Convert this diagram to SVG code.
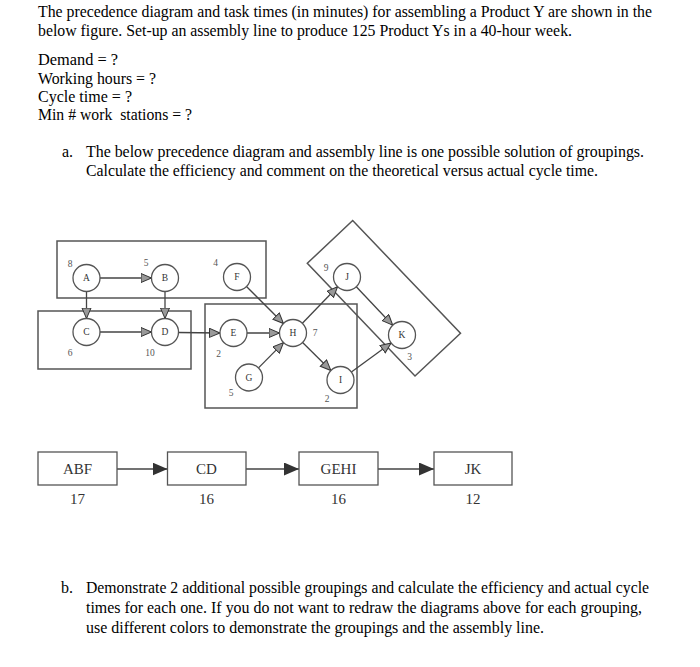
<svg xmlns="http://www.w3.org/2000/svg" width="700" height="667" viewBox="0 0 700 667">
<defs>
<style>
.t{font-family:"Liberation Serif","Times New Roman",serif;font-size:16px;fill:#000}
.grp{fill:none;stroke:#555;stroke-width:1.5}
.nd circle{fill:#fff;stroke:#555;stroke-width:1.3}
.nl{font-family:"Liberation Serif",serif;font-size:9.5px;fill:#333;text-anchor:middle}
.num{font-family:"Liberation Serif",serif;font-size:9.5px;fill:#555;text-anchor:middle}
.e{stroke:#444;stroke-width:1.3;fill:none;marker-end:url(#ah)}
.st rect{fill:#fff;stroke:#555;stroke-width:1.3}
.sl{font-family:"Liberation Serif",serif;font-size:15px;fill:#333;text-anchor:middle}
.le{stroke:#444;stroke-width:1.5;fill:none;marker-end:url(#bh)}
</style>
<marker id="ah" markerUnits="userSpaceOnUse" markerWidth="13" markerHeight="11" refX="11" refY="5" orient="auto">
<path d="M0.5,0.5 L11,5 L0.5,9.5 Z" fill="#999" stroke="#333" stroke-width="1"/>
</marker>
<marker id="bh" markerUnits="userSpaceOnUse" markerWidth="16" markerHeight="14" refX="15" refY="6.5" orient="auto">
<path d="M0,0 L15,6.5 L0,13 Z" fill="#333"/>
</marker>
</defs>
<rect width="700" height="667" fill="#fff"/>

<g id="text">
<text class="t" x="38" y="17" textLength="614" lengthAdjust="spacingAndGlyphs">The precedence diagram and task times (in minutes) for assembling a Product Y are shown in the</text>
<text class="t" x="38" y="36" textLength="534" lengthAdjust="spacingAndGlyphs">below figure. Set-up an assembly line to produce 125 Product Ys in a 40-hour week.</text>
<text class="t" x="38" y="65" textLength="80" lengthAdjust="spacingAndGlyphs">Demand = ?</text>
<text class="t" x="38" y="84" textLength="118" lengthAdjust="spacingAndGlyphs">Working hours = ?</text>
<text class="t" x="38" y="102" textLength="94" lengthAdjust="spacingAndGlyphs">Cycle time = ?</text>
<text class="t" x="38" y="120" textLength="154" lengthAdjust="spacingAndGlyphs" xml:space="preserve">Min # work  stations = ?</text>
<text class="t" x="62" y="157">a.</text>
<text class="t" x="86" y="157" textLength="558" lengthAdjust="spacingAndGlyphs">The below precedence diagram and assembly line is one possible solution of groupings.</text>
<text class="t" x="86" y="176" textLength="512" lengthAdjust="spacingAndGlyphs">Calculate the efficiency and comment on the theoretical versus actual cycle time.</text>
<text class="t" x="61" y="593">b.</text>
<text class="t" x="86" y="593" textLength="563" lengthAdjust="spacingAndGlyphs">Demonstrate 2 additional possible groupings and calculate the efficiency and actual cycle</text>
<text class="t" x="86" y="613" textLength="556" lengthAdjust="spacingAndGlyphs">times for each one. If you do not want to redraw the diagrams above for each grouping,</text>
<text class="t" x="86" y="633" textLength="458" lengthAdjust="spacingAndGlyphs">use different colors to demonstrate the groupings and the assembly line.</text>
</g>

<g id="groups">
<rect class="grp" x="57" y="241" width="209" height="57"/>
<rect class="grp" x="38" y="311" width="153" height="58"/>
<rect class="grp" x="205" y="304" width="152" height="104"/>
<polygon class="grp" points="352.7,220.5 307.3,263.3 415,376 460.5,333.3"/>
</g>

<g id="connectors">
<line class="e" x1="100" y1="278" x2="151.5" y2="278"/>
<line class="e" x1="86.5" y1="291.5" x2="86.5" y2="318.5"/>
<line class="e" x1="165" y1="291.5" x2="165" y2="318.5"/>
<line class="e" x1="100" y1="332" x2="151.5" y2="332"/>
<line class="e" x1="178.5" y1="332.5" x2="220" y2="333"/>
<line class="e" x1="247" y1="333" x2="279.5" y2="333"/>
<line class="e" x1="246.5" y1="286.5" x2="283.5" y2="323.5"/>
<line class="e" x1="258.5" y1="367.9" x2="283.5" y2="342.6"/>
<line class="e" x1="302.4" y1="323.3" x2="337.6" y2="286.7"/>
<line class="e" x1="302.6" y1="342.5" x2="330.9" y2="370.5"/>
<line class="e" x1="356.3" y1="286.8" x2="392.7" y2="325.2"/>
<line class="e" x1="351.4" y1="372" x2="391.1" y2="343"/>
<line class="le" x1="117" y1="469" x2="167.5" y2="469"/>
<line class="le" x1="246" y1="469" x2="299" y2="469"/>
<line class="le" x1="378" y1="469" x2="434" y2="469"/>
</g>

<g id="nA" class="nd"><circle cx="86.5" cy="278" r="13.5"/><text class="nl" x="86.5" y="281.3">A</text><text class="num" x="70" y="267">8</text></g>
<g id="nB" class="nd"><circle cx="165" cy="278" r="13.5"/><text class="nl" x="165" y="281.3">B</text><text class="num" x="146" y="266">5</text></g>
<g id="nF" class="nd"><circle cx="237" cy="277" r="13.5"/><text class="nl" x="237" y="280.3">F</text><text class="num" x="215.5" y="265.5">4</text></g>
<g id="nC" class="nd"><circle cx="86.5" cy="332" r="13.5"/><text class="nl" x="86.5" y="335.3">C</text><text class="num" x="70" y="356">6</text></g>
<g id="nD" class="nd"><circle cx="165" cy="332" r="13.5"/><text class="nl" x="165" y="335.3">D</text><text class="num" x="150" y="356">10</text></g>
<g id="nE" class="nd"><circle cx="233.5" cy="333" r="13.5"/><text class="nl" x="233.5" y="336.3">E</text><text class="num" x="218.5" y="357">2</text></g>
<g id="nH" class="nd"><circle cx="293" cy="333" r="13.5"/><text class="nl" x="293" y="336.3">H</text><text class="num" x="315" y="336">7</text></g>
<g id="nG" class="nd"><circle cx="249" cy="377.5" r="13.5"/><text class="nl" x="249" y="380.8">G</text><text class="num" x="231" y="395.5">5</text></g>
<g id="nI" class="nd"><circle cx="340.5" cy="380" r="13.5"/><text class="nl" x="340.5" y="383.3">I</text><text class="num" x="327" y="402">2</text></g>
<g id="nJ" class="nd"><circle cx="347" cy="277" r="13.5"/><text class="nl" x="347" y="280.3">J</text><text class="num" x="326" y="271">9</text></g>
<g id="nK" class="nd"><circle cx="402" cy="335" r="13.5"/><text class="nl" x="402" y="338.3">K</text><text class="num" x="409.5" y="359.5">3</text></g>

<g id="sABF" class="st"><rect x="38" y="452" width="79" height="33"/><text class="sl" x="77.5" y="474">ABF</text><text class="sl" x="77.5" y="504">17</text></g>
<g id="sCD" class="st"><rect x="167.5" y="452" width="78.5" height="33"/><text class="sl" x="206.5" y="474">CD</text><text class="sl" x="206.5" y="504">16</text></g>
<g id="sGEHI" class="st"><rect x="299" y="452" width="79" height="33"/><text class="sl" x="338.5" y="474">GEHI</text><text class="sl" x="338.5" y="504">16</text></g>
<g id="sJK" class="st"><rect x="434" y="452" width="78" height="33"/><text class="sl" x="473" y="474">JK</text><text class="sl" x="473" y="504">12</text></g>
</svg>
